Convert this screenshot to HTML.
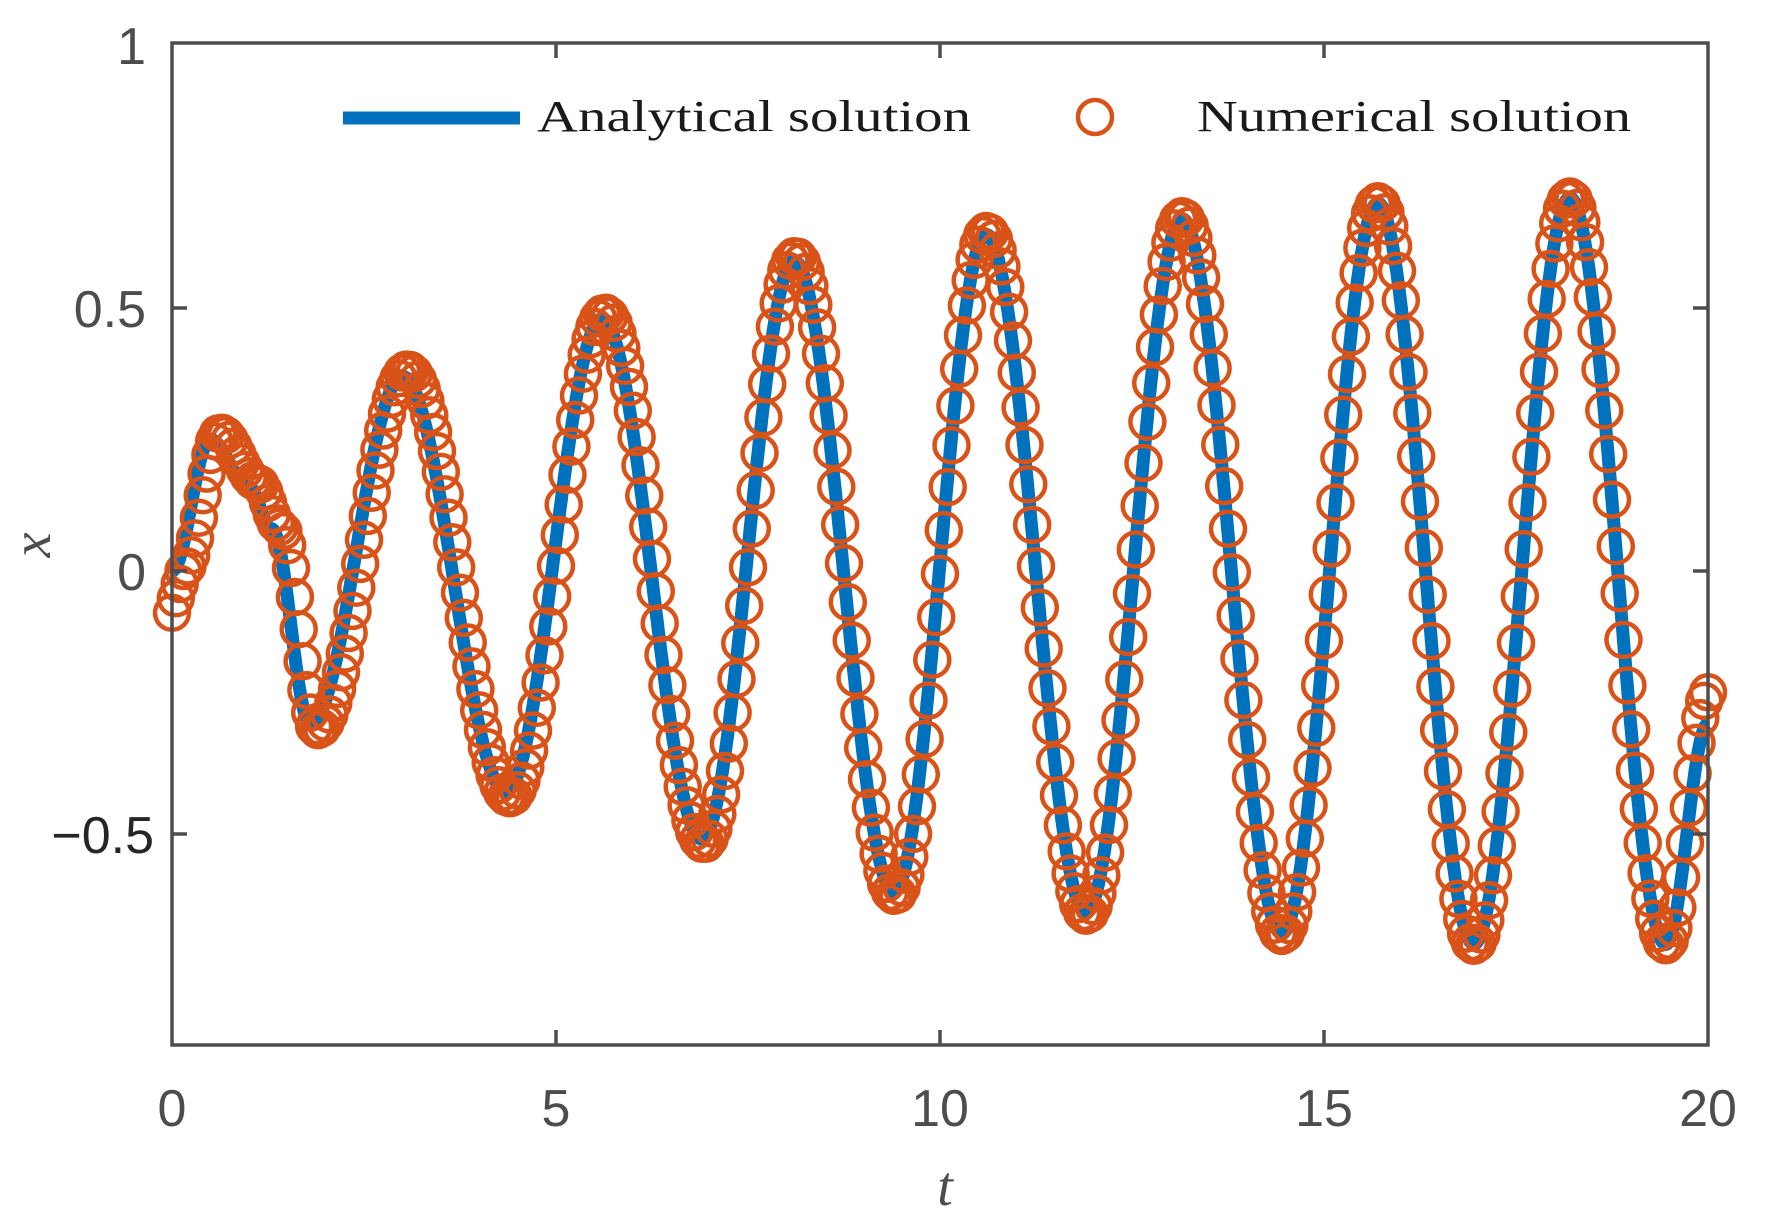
<!DOCTYPE html>
<html><head><meta charset="utf-8"><style>
html,body{margin:0;padding:0;background:#fff;}
svg{display:block;}
</style></head><body>
<svg id="s" width="1765" height="1220" xmlns="http://www.w3.org/2000/svg">
<rect width="1765" height="1220" fill="#fff"/>
<g id="plot"></g>
<g stroke="#4d4d4d" stroke-width="3.5" fill="none">
<rect x="172" y="43" width="1536" height="1002"/>
<path d="M556,1045v-15M940,1045v-15M1324,1045v-15M556,43v15M940,43v15M1324,43v15M172,308h15M172,571h15M172,834h15M1708,308h-15M1708,571h-15M1708,834h-15"/>
</g>
<g font-family="Liberation Sans, sans-serif" font-size="52" fill="#4d4d4d">
<text x="172" y="1126" text-anchor="middle">0</text>
<text x="556" y="1126" text-anchor="middle">5</text>
<text x="940" y="1126" text-anchor="middle">10</text>
<text x="1324" y="1126" text-anchor="middle">15</text>
<text x="1708" y="1126" text-anchor="middle">20</text>
<text x="146" y="64" text-anchor="end">1</text>
<text x="146" y="327" text-anchor="end">0.5</text>
<text x="146" y="590" text-anchor="end">0</text>
<text x="154" y="853" text-anchor="end" fill="#262626">−0.5</text>
</g>
<text x="945" y="1205" font-family="Liberation Serif, serif" font-style="italic" font-size="56" fill="#4d4d4d" text-anchor="middle">t</text>
<text transform="translate(50,545) rotate(-90)" font-family="Liberation Serif, serif" font-style="italic" font-size="56" fill="#4d4d4d" text-anchor="middle">x</text>
<line x1="343" y1="118" x2="520" y2="118" stroke="#0072BD" stroke-width="13"/>
<text x="537" y="131" font-family="Liberation Serif, serif" font-size="44" fill="#1a1a1a" textLength="434" lengthAdjust="spacingAndGlyphs">Analytical solution</text>
<circle cx="1095" cy="117" r="17" fill="none" stroke="#D95319" stroke-width="4.5"/>
<text x="1197" y="131" font-family="Liberation Serif, serif" font-size="44" fill="#1a1a1a" textLength="434" lengthAdjust="spacingAndGlyphs">Numerical solution</text>
</svg>
<script>
var E=[[0,0],[0.5,0.25],[1.0,0.16],[1.3,0.08],[1.8,-0.29],[3.0,0.37],[4.35,-0.42],[5.6,0.48],[6.9,-0.51],[8.1,0.59],[9.4,-0.61],[10.6,0.64],[11.9,-0.65],[13.15,0.67],[14.45,-0.69],[15.7,0.70],[16.95,-0.71],[18.2,0.71],[19.45,-0.71],[20,-0.29]];
function f(t){
 if(t<=0) return 0.5*t;
 for(var i=0;i<E.length-1;i++){
  var a=E[i],b=E[i+1];
  if(t<=b[0]){var u=(t-a[0])/(b[0]-a[0]);var w=(1-Math.cos(Math.PI*u))/2;return a[1]+(b[1]-a[1])*w;}
 }
 return E[E.length-1][1];
}
function X(t){return 172+t*76.8;}
function Y(v){return 571-v*526;}
var g=document.getElementById('plot');
var d='';
for(var t=0;t<=20.0001;t+=0.01){d+=(t==0?'M':'L')+X(t).toFixed(1)+','+Y(f(t)).toFixed(1);}
var NS='http://www.w3.org/2000/svg';
var p=document.createElementNS(NS,'path');
p.setAttribute('d',d);p.setAttribute('fill','none');p.setAttribute('stroke','#0072BD');p.setAttribute('stroke-width','13');p.setAttribute('stroke-linejoin','round');
g.appendChild(p);
var dt=0.05;
for(var k=0;k*dt<=20.0001;k++){
 var t=k*dt;
 var lag=0.15*Math.exp(-t/4);
 var v=f(t-lag)*(1+0.06*Math.exp(-t/6));
 if(t>19.6) v+=0.06*(t-19.6)/0.4;
 var c=document.createElementNS(NS,'circle');
 c.setAttribute('cx',X(t).toFixed(1));c.setAttribute('cy',Y(v).toFixed(1));c.setAttribute('r','17');
 c.setAttribute('fill','none');c.setAttribute('stroke','#D95319');c.setAttribute('stroke-width','4.5');
 g.appendChild(c);
}
</script>
</body></html>
